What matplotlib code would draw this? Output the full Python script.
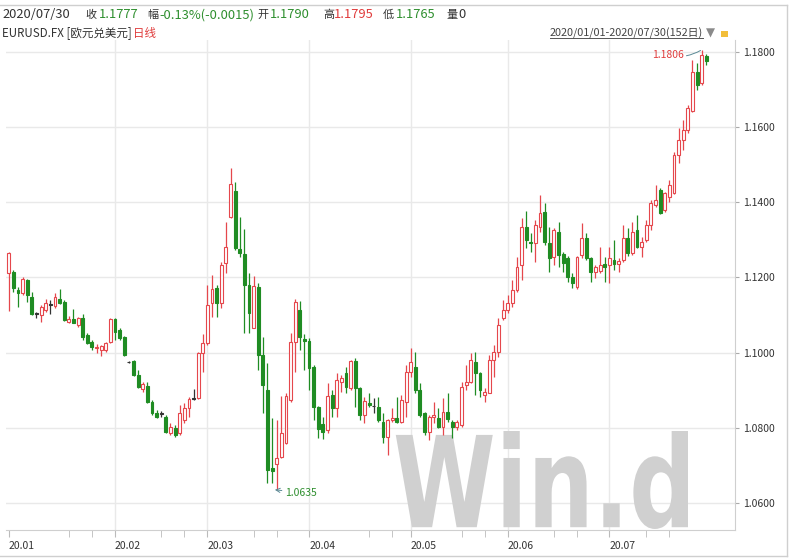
import numpy as np
import pandas as pd
import matplotlib
matplotlib.use('Agg')
import matplotlib.pyplot as plt
from matplotlib.textpath import TextPath
from matplotlib.patches import PathPatch, Rectangle
from matplotlib.font_manager import FontProperties
from matplotlib.transforms import Affine2D, IdentityTransform
from matplotlib.lines import Line2D

plt.rcParams['font.family'] = ['Noto Sans CJK SC', 'DejaVu Sans']

# ---------------- data (EUR/USD daily, 2020-01-01 .. 2020-07-30) ----------------
dates = pd.bdate_range('2020-01-01', '2020-07-30')

opens = [1.1212, 1.1215, 1.1167, 1.1159, 1.1193, 1.1148, 1.1103, 1.1100, 1.1114, 1.1127,
         1.1124, 1.1143, 1.1135, 1.1082, 1.1090, 1.1074, 1.1092, 1.1047, 1.1029, 1.1013,
         1.1007, 1.1007, 1.1029,
         1.1090, 1.1060, 1.1042, 1.0975, 1.0978, 1.0941, 1.0904, 1.0912, 1.0869, 1.0840,
         1.0837, 1.0829, 1.0786, 1.0800, 1.0786, 1.0821, 1.0853, 1.0877, 1.0879, 1.0999,
         1.1026, 1.1132, 1.1172, 1.1132, 1.1239, 1.1361, 1.1430, 1.1276, 1.1263, 1.1180,
         1.1066, 1.1175, 1.0994, 1.0901, 1.0693, 1.0704, 1.0723, 1.0760, 1.0874, 1.1029,
         1.1114, 1.1037,
         1.1031, 1.0961, 1.0856, 1.0810, 1.0794, 1.0888, 1.0853, 1.0922, 1.0946, 1.0906,
         1.0978, 1.0906, 1.0834, 1.0866, 1.0858, 1.0856, 1.0816, 1.0776, 1.0821, 1.0826,
         1.0816, 1.0869,
         1.0949, 1.0961, 1.0901, 1.0840, 1.0789, 1.0829, 1.0826, 1.0802, 1.0842, 1.0816,
         1.0802, 1.0808, 1.0914, 1.0922, 1.0975, 1.0946, 1.0888, 1.0893, 1.0981, 1.1002,
         1.1092,
         1.1114, 1.1132, 1.1167, 1.1233, 1.1334, 1.1295, 1.1292, 1.1335, 1.1374, 1.1292,
         1.1255, 1.1321, 1.1263, 1.1252, 1.1201, 1.1175, 1.1260, 1.1305, 1.1252, 1.1215,
         1.1217, 1.1236,
         1.1233, 1.1247, 1.1236, 1.1247, 1.1305, 1.1265, 1.1327, 1.1281, 1.1300, 1.1340,
         1.1393, 1.1433, 1.1380, 1.1414, 1.1425, 1.1526, 1.1566, 1.1592, 1.1643, 1.1747,
         1.1718, 1.1790]

highs = [1.1268, 1.1220, 1.1175, 1.1201, 1.1196, 1.1162, 1.1108, 1.1127, 1.1143, 1.1140,
         1.1159, 1.1170, 1.1140, 1.1098, 1.1116, 1.1095, 1.1103, 1.1052, 1.1034, 1.1023,
         1.1021, 1.1029, 1.1092,
         1.1092, 1.1066, 1.1045, 1.0978, 1.0981, 1.0954, 1.0922, 1.0922, 1.0874, 1.0848,
         1.0845, 1.0834, 1.0813, 1.0808, 1.0861, 1.0866, 1.0882, 1.0904, 1.1002, 1.1050,
         1.1180, 1.1207, 1.1180, 1.1241, 1.1348, 1.1491, 1.1454, 1.1361, 1.1329, 1.1212,
         1.1204, 1.1185, 1.1042, 1.0973, 1.0826, 1.0821, 1.0885, 1.0893, 1.1052, 1.1143,
         1.1138, 1.1050,
         1.1039, 1.0967, 1.0858, 1.0829, 1.0920, 1.0901, 1.0946, 1.0941, 1.0962, 1.0981,
         1.0986, 1.0909, 1.0882, 1.0893, 1.0879, 1.0882, 1.0840, 1.0824, 1.0853, 1.0882,
         1.0888, 1.0967,
         1.1013, 1.1002, 1.0920, 1.0842, 1.0834, 1.0869, 1.0853, 1.0879, 1.0893, 1.0821,
         1.0821, 1.0922, 1.0967, 1.0999, 1.1002, 1.0949, 1.0906, 1.0994, 1.1021, 1.1092,
         1.1140,
         1.1154, 1.1193, 1.1255, 1.1358, 1.1377, 1.1318, 1.1353, 1.1420, 1.1398, 1.1335,
         1.1332, 1.1348, 1.1268, 1.1257, 1.1212, 1.1257, 1.1345, 1.1318, 1.1255, 1.1233,
         1.1281, 1.1255,
         1.1281, 1.1300, 1.1252, 1.1340, 1.1332, 1.1348, 1.1366, 1.1308, 1.1353, 1.1406,
         1.1446, 1.1438, 1.1428, 1.1459, 1.1534, 1.1598, 1.1619, 1.1659, 1.1779, 1.1771,
         1.1806, 1.1795]

lows = [1.1111, 1.1162, 1.1122, 1.1154, 1.1135, 1.1100, 1.1092, 1.1082, 1.1108, 1.1103,
        1.1119, 1.1130, 1.1084, 1.1079, 1.1079, 1.1069, 1.1034, 1.1023, 1.1007, 1.0999,
        1.0991, 1.1002, 1.1026,
        1.1034, 1.1034, 1.0991, 1.0973, 1.0938, 1.0906, 1.0896, 1.0866, 1.0834, 1.0826,
        1.0829, 1.0786, 1.0781, 1.0776, 1.0781, 1.0813, 1.0829, 1.0874, 1.0877, 1.0949,
        1.1021, 1.1095, 1.1095, 1.1119, 1.1212, 1.1358, 1.1273, 1.1255, 1.1052, 1.1052,
        1.1066, 1.0954, 1.0840, 1.0654, 1.0654, 1.0635, 1.0720, 1.0757, 1.0869, 1.0949,
        1.1007, 1.0954,
        1.0901, 1.0821, 1.0773, 1.0770, 1.0786, 1.0829, 1.0829, 1.0896, 1.0893, 1.0901,
        1.0856, 1.0821, 1.0813, 1.0856, 1.0840, 1.0816, 1.0760, 1.0728, 1.0816, 1.0813,
        1.0813, 1.0829,
        1.0936, 1.0893, 1.0829, 1.0781, 1.0768, 1.0813, 1.0800, 1.0781, 1.0816, 1.0773,
        1.0794, 1.0802, 1.0901, 1.0920, 1.0888, 1.0882, 1.0869, 1.0893, 1.0936, 1.0989,
        1.1087,
        1.1106, 1.1122, 1.1162, 1.1193, 1.1279, 1.1268, 1.1241, 1.1321, 1.1287, 1.1215,
        1.1233, 1.1228, 1.1215, 1.1188, 1.1172, 1.1170, 1.1252, 1.1247, 1.1188, 1.1199,
        1.1212, 1.1188,
        1.1185, 1.1220, 1.1215, 1.1241, 1.1257, 1.1260, 1.1279, 1.1255, 1.1295, 1.1327,
        1.1388, 1.1369, 1.1374, 1.1401, 1.1422, 1.1505, 1.1539, 1.1585, 1.1640, 1.1699,
        1.1712, 1.1765]

closes = [1.1265, 1.1172, 1.1159, 1.1196, 1.1154, 1.1103, 1.1103, 1.1122, 1.1132, 1.1127,
          1.1148, 1.1132, 1.1087, 1.1090, 1.1080, 1.1092, 1.1042, 1.1026, 1.1015, 1.1015,
          1.1018, 1.1026, 1.1090,
          1.1055, 1.1039, 1.0994, 1.0975, 1.0941, 1.0909, 1.0917, 1.0869, 1.0840, 1.0829,
          1.0837, 1.0789, 1.0802, 1.0781, 1.0840, 1.0853, 1.0877, 1.0877, 1.0999, 1.1026,
          1.1127, 1.1170, 1.1132, 1.1233, 1.1281, 1.1449, 1.1279, 1.1265, 1.1180, 1.1106,
          1.1178, 1.0994, 1.0914, 1.0688, 1.0685, 1.0720, 1.0786, 1.0885, 1.1029, 1.1135,
          1.1042, 1.1031,
          1.0959, 1.0856, 1.0797, 1.0789, 1.0885, 1.0853, 1.0928, 1.0933, 1.0909, 1.0978,
          1.0906, 1.0834, 1.0872, 1.0861, 1.0858, 1.0821, 1.0776, 1.0821, 1.0826, 1.0816,
          1.0874, 1.0949,
          1.0975, 1.0901, 1.0834, 1.0789, 1.0829, 1.0834, 1.0802, 1.0842, 1.0824, 1.0802,
          1.0816, 1.0909, 1.0922, 1.0981, 1.0946, 1.0901, 1.0896, 1.0981, 1.1002, 1.1074,
          1.1114,
          1.1132, 1.1167, 1.1228, 1.1334, 1.1300, 1.1292, 1.1340, 1.1372, 1.1295, 1.1252,
          1.1327, 1.1260, 1.1239, 1.1201, 1.1185, 1.1255, 1.1305, 1.1252, 1.1215, 1.1228,
          1.1233, 1.1228,
          1.1252, 1.1236, 1.1244, 1.1305, 1.1265, 1.1321, 1.1281, 1.1295, 1.1340, 1.1398,
          1.1406, 1.1372, 1.1425, 1.1446, 1.1526, 1.1566, 1.1592, 1.1651, 1.1747, 1.1712,
          1.1792, 1.1777]

price_ticks = [1.06, 1.08, 1.10, 1.12, 1.14, 1.16, 1.18]
header_items = [('2020/07/30', 'k'), ('收', 'k'), ('1.1777', 'g'), ('幅', 'k'),
                ('-0.13%(-0.0015)', 'g'), ('开', 'k'), ('1.1790', 'g'), ('高', 'k'),
                ('1.1795', 'r'), ('低', 'k'), ('1.1765', 'g'), ('量', 'k'), ('0', 'k')]
range_label = '2020/01/01-2020/07/30(152日)'
title_label = 'EURUSD.FX [欧元兑美元]'
period_label = '日线'
minor_tick_dates = ['2020-01-20', '2020-01-27', '2020-02-17', '2020-02-24', '2020-03-16',
                    '2020-03-23', '2020-04-20', '2020-04-27', '2020-05-18', '2020-05-25',
                    '2020-06-15', '2020-06-22', '2020-07-13', '2020-07-20']

# ---------------- styling ----------------
W, H = 796, 559
RED = '#e5474c'
GREEN = '#1f8c23'
DARK = '#333333'
TXT = {'k': '#333333', 'g': '#2f8f2f', 'r': '#e03c3c'}
GRID = '#e9e9e9'
FRAME = '#cfcfcf'


def fx(x):
    return x / W


def fy(y):
    return 1 - y / H


O = np.array(opens)
Hh = np.array(highs)
L = np.array(lows)
C = np.array(closes)
n = len(O)
x = np.arange(n)

fig = plt.figure(figsize=(W / 100, H / 100), dpi=100)
fig.patch.set_facecolor('white')

ax_l, ax_r, ax_t, ax_b = 6, 735, 40, 530
ax = fig.add_axes([fx(ax_l), fy(ax_b), fx(ax_r) - fx(ax_l), fy(ax_t) - fy(ax_b)])
ax.set_xlim(-0.6, 157.2)
ax.set_ylim(1.0528, 1.1832)

# grid
ax.set_yticks(price_ticks)
ax.yaxis.grid(True, color=GRID, lw=1.0, zorder=0)
month_starts = [i for i in range(n) if i == 0 or dates[i].month != dates[i - 1].month]
for i in month_starts[1:]:
    ax.axvline(i, color=GRID, lw=1.0, zorder=0)
ax.set_axisbelow(True)

# candles
colors = np.where(C > O, RED, np.where(C < O, GREEN, DARK))
faces = np.where(C > O, 'white', colors)
ax.vlines(x, L, Hh, colors=colors, lw=0.9, zorder=2)
ax.bar(x, np.maximum(np.abs(C - O), 0.00012), bottom=np.minimum(O, C), width=0.62,
       color=faces, edgecolor=colors, linewidth=0.8, zorder=3)

# axes cosmetics
for s in ['top', 'left']:
    ax.spines[s].set_visible(False)
ax.spines['right'].set_color(FRAME)
ax.spines['bottom'].set_color(FRAME)
ax.yaxis.tick_right()
ax.yaxis.set_major_formatter(matplotlib.ticker.FormatStrFormatter('%.4f'))
ax.tick_params(axis='y', labelsize=7.5, labelcolor=DARK, color='#aaaaaa', length=3, pad=3)

ax.set_xticks(month_starts)
ax.set_xticklabels([dates[i].strftime('%y.%m') for i in month_starts], ha='left')
minor_idx = [dates.get_loc(pd.Timestamp(d)) for d in minor_tick_dates]
ax.set_xticks(minor_idx, minor=True)
ax.tick_params(axis='x', which='both', labelsize=7.5, labelcolor=DARK, color='#bbbbbb',
               length=5, pad=3)

# annotations
imax = int(np.argmax(Hh))
imin = int(np.argmin(L))
ax.annotate(f'{Hh[imax]:.4f}', xy=(imax, Hh[imax]), xytext=(-13, -4), textcoords='offset points',
            ha='right', va='center', fontsize=7.5, color='#e03c3c',
            arrowprops=dict(arrowstyle='-', color='#5a8a96', lw=0.7,
                            connectionstyle='arc3,rad=0.2', shrinkA=0, shrinkB=1), zorder=5)
ax.annotate(f'{L[imin]:.4f}', xy=(imin - 0.4, L[imin]), xytext=(7, -2), textcoords='offset points',
            ha='left', va='center', fontsize=7.5, color='#2f8f2f',
            arrowprops=dict(arrowstyle='->', color='#5a8a96', lw=0.7,
                            shrinkA=0, shrinkB=0), zorder=5)

# watermark
fp = FontProperties(family='DejaVu Sans', weight='bold')
tp = TextPath((0, 0), 'Win.d', size=100, prop=fp)
v = tp.vertices
bx0, by0 = v[:, 0].min(), v[:, 1].min()
bx1, by1 = v[:, 0].max(), v[:, 1].max()
tx0, tx1 = 393, 688
ty0, ty1 = H - 529, H - 431
tr = Affine2D().translate(-bx0, -by0).scale((tx1 - tx0) / (bx1 - bx0), (ty1 - ty0) / (by1 - by0)).translate(tx0, ty0)
wm = PathPatch(tr.transform_path(tp), facecolor='#d0d0d0', edgecolor='none', zorder=1)
wm.set_transform(IdentityTransform())
ax.add_patch(wm)
wm.set_clip_path(ax.patch)

# header line 1
xs1 = [2, 85, 99, 147, 159, 257, 270, 323, 334, 383, 396, 446, 458]
for (t, c), xx in zip(header_items, xs1):
    is_cjk = any(ord(ch) > 0x2E80 for ch in t)
    fig.text(fx(xx), fy(15), t, color=TXT[c], fontsize=8.0 if is_cjk else 9.3,
             ha='left', va='center')

# header line 2
fig.text(fx(2), fy(33), title_label, color=DARK, fontsize=8.3, ha='left', va='center')
fig.text(fx(133), fy(33), period_label, color='#e03c3c', fontsize=8.3, ha='left', va='center')

# top right range label with underline
rt = fig.text(fx(703), fy(33), range_label, color='#444444', fontsize=7.8, ha='right', va='center')
fig.canvas.draw()
bb = rt.get_window_extent(renderer=fig.canvas.get_renderer())
fig.add_artist(Line2D([bb.x0 / W, bb.x1 / W], [(bb.y0 + 0.5) / H] * 2, transform=fig.transFigure,
                      color='#555555', lw=0.7))
fig.text(fx(706), fy(33), '▼', color='#8a8a8a', fontsize=8.5, ha='left', va='center',
         family=['DejaVu Sans'])
fig.add_artist(Rectangle((fx(721), fy(37)), 7 / W, 6 / H, transform=fig.transFigure,
                         facecolor='#f2be3a', edgecolor='none'))

# outer frame lines
for (x0, y0, x1, y1) in [(0, 5, 787, 5), (787, 5, 787, 556), (0, 556, 787, 556)]:
    fig.add_artist(Line2D([fx(x0), fx(x1)], [fy(y0), fy(y1)], transform=fig.transFigure,
                          color=FRAME, lw=1))

fig.savefig('out.png', dpi=100)
